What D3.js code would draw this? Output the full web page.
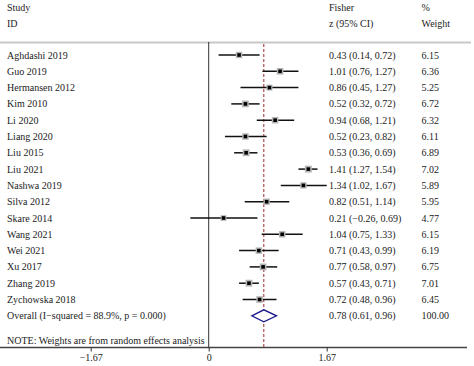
<!DOCTYPE html>
<html lang="en">
<head>
  <meta charset="UTF-8" />
  <script src="https://d3js.org/d3.v7.min.js"></script>
  <style>
    body { margin: 0; background: #fff; }
    text { font-family: "Liberation Serif", "DejaVu Serif", serif; font-size: 10px; fill: #222; }
  </style>
</head>
<body>
  <div id="scene"></div>

  <script>
    const studies = ["Aghdashi 2019", "Guo 2019", "Hermansen 2012", "Kim 2010", "Li 2020", "Liang  2020",
      "Liu 2015", "Liu 2021", "Nashwa 2019", "Silva 2012", "Skare 2014", "Wang 2021", "Wei 2021",
      "Xu 2017", "Zhang 2019", "Zychowska 2018"];
    const est = [0.43, 1.01, 0.86, 0.52, 0.94, 0.52, 0.53, 1.41, 1.34, 0.82, 0.21, 1.04, 0.71, 0.77, 0.57, 0.72];
    const lo = [0.14, 0.76, 0.45, 0.32, 0.68, 0.23, 0.36, 1.27, 1.02, 0.51, -0.26, 0.75, 0.43, 0.58, 0.43, 0.48];
    const hi = [0.72, 1.27, 1.27, 0.72, 1.21, 0.82, 0.69, 1.54, 1.67, 1.14, 0.69, 1.33, 0.99, 0.97, 0.71, 0.96];
    const weights = ["6.15", "6.36", "5.25", "6.72", "6.32", "6.11", "6.89", "7.02", "5.89", "5.95", "4.77",
      "6.15", "6.19", "6.75", "7.01", "6.45"];
    const overall = { label: "Overall  (I\u2212squared = 88.9%, p = 0.000)", est: 0.78, lo: 0.61, hi: 0.96, weight: "100.00" };
    const xTicks = [-1.67, 0, 1.67];

    const fmt = v => d3.format(".2f")(v).replace("-", "\u2212");
    const rows = studies.map((s, i) => ({ s, est: est[i], lo: lo[i], hi: hi[i], w: weights[i], i }));

    const W = 474, H = 366;
    const svg = d3.select("#scene").append("svg").attr("width", W).attr("height", H);

    const x = d3.scaleLinear().domain([-1.67, 1.67]).range([90.7, 326.7]);
    const y = d3.scaleLinear().domain([0, 16]).range([55, 315.8]);
    const axisY = 347.5;

    // header
    svg.append("text").attr("x", 7).attr("y", 11).text("Study");
    svg.append("text").attr("x", 7).attr("y", 27).text("ID");
    svg.append("text").attr("x", 329).attr("y", 11).text("Fisher");
    svg.append("text").attr("x", 329).attr("y", 27).text("z (95% CI)");
    svg.append("text").attr("x", 421.5).attr("y", 11).text("%");
    svg.append("text").attr("x", 421.5).attr("y", 27).text("Weight");

    svg.append("line").attr("x1", 0).attr("x2", 471).attr("y1", 42.5).attr("y2", 42.5)
      .attr("stroke", "#c8c8c8").attr("stroke-width", 2);

    // null line and overall line
    svg.append("line").attr("x1", x(0)).attr("x2", x(0)).attr("y1", 42).attr("y2", axisY)
      .attr("stroke", "#333").attr("stroke-width", 1);
    svg.append("line").attr("x1", x(overall.est)).attr("x2", x(overall.est)).attr("y1", 44).attr("y2", axisY)
      .attr("stroke", "#9b2a2a").attr("stroke-width", 1).attr("stroke-dasharray", "3,2");

    // studies
    const g = svg.append("g");
    const r = g.selectAll("g.row").data(rows).enter().append("g").attr("class", "row");
    r.append("line")
      .attr("x1", d => x(d.lo)).attr("x2", d => x(d.hi))
      .attr("y1", d => y(d.i)).attr("y2", d => y(d.i))
      .attr("stroke", "#111").attr("stroke-width", 1.5);
    r.append("rect")
      .attr("x", d => x(d.est) - Math.sqrt(+d.w) * 1.3)
      .attr("y", d => y(d.i) - Math.sqrt(+d.w) * 1.3)
      .attr("width", d => Math.sqrt(+d.w) * 2.6)
      .attr("height", d => Math.sqrt(+d.w) * 2.6)
      .attr("fill", "#b5b5b5");
    r.append("rect")
      .attr("x", d => x(d.est) - 1.8).attr("y", d => y(d.i) - 1.8)
      .attr("width", 3.6).attr("height", 3.6).attr("fill", "#000");
    r.append("text").attr("x", 7).attr("y", d => y(d.i) + 3.5).text(d => d.s);
    r.append("text").attr("x", 329).attr("y", d => y(d.i) + 3.5)
      .text(d => `${fmt(d.est)} (${fmt(d.lo)}, ${fmt(d.hi)})`);
    r.append("text").attr("x", 421.5).attr("y", d => y(d.i) + 3.5).text(d => d.w);

    // overall diamond
    const oy = y(16);
    svg.append("path")
      .attr("d", `M${x(overall.lo)},${oy}L${x(overall.est)},${oy - 6}L${x(overall.hi)},${oy}L${x(overall.est)},${oy + 6}Z`)
      .attr("fill", "#fff").attr("stroke", "#1a1a8c").attr("stroke-width", 1.3);
    svg.append("text").attr("x", 7).attr("y", oy + 3.5).text(overall.label);
    svg.append("text").attr("x", 329).attr("y", oy + 3.5)
      .text(`${fmt(overall.est)} (${fmt(overall.lo)}, ${fmt(overall.hi)})`);
    svg.append("text").attr("x", 421.5).attr("y", oy + 3.5).text(overall.weight);

    svg.append("text").attr("x", 7).attr("y", 343.5).text("NOTE: Weights are from random effects analysis");

    // x axis
    svg.append("line").attr("x1", 0).attr("x2", 467).attr("y1", axisY).attr("y2", axisY)
      .attr("stroke", "#444").attr("stroke-width", 1.3);
    const ax = svg.append("g").attr("transform", `translate(0,${axisY})`)
      .call(d3.axisBottom(x).tickValues(xTicks).tickSize(4).tickPadding(2)
        .tickFormat(d => d === 0 ? "0" : fmt(d)));
    ax.select(".domain").remove();
    ax.selectAll("line").attr("stroke", "#333");
    ax.selectAll("text").style("font-family", "'Liberation Serif', serif").style("font-size", "10px").attr("fill", "#222");
  </script>
</body>
</html>
